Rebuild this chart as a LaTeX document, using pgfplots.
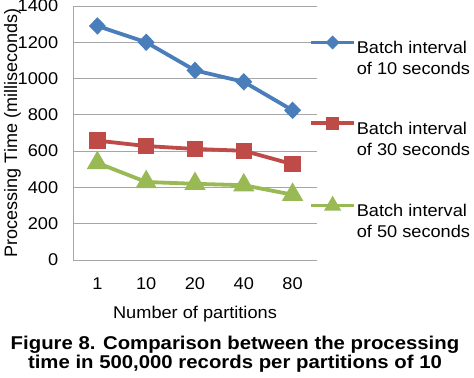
\documentclass[border=0pt]{standalone}
\usepackage{pgfplots}
\pgfplotsset{compat=1.18}
\usepackage{fontspec}
\setmainfont{Liberation Sans}[FakeStretch=1.07]
\newfontfamily\plainfont{Liberation Sans}
\newfontfamily\capfont{Liberation Sans}[FakeStretch=1.1]
\definecolor{cblue}{HTML}{4A7EBB}
\definecolor{cred}{HTML}{BE4B48}
\definecolor{cgreen}{HTML}{98B954}
\definecolor{cgrid}{HTML}{A6A6A6}
\begin{document}
\fontsize{17bp}{21bp}\selectfont
\begin{tikzpicture}
\useasboundingbox (0,0) rectangle (474bp,378bp);
\begin{axis}[
  at={(73bp,118bp)}, anchor=south west,
  scale only axis, width=244bp, height=254bp,
  xmin=-0.5, xmax=4.5, ymin=0, ymax=1400,
  xtick={0,1,2,3,4}, xticklabels={1,10,20,40,80},
  ytick={0,200,...,1400},
  ymajorgrids, major grid style={color=cgrid, line width=0.9bp},
  axis x line*=bottom, axis y line*=left,
  axis line style={cgrid, line width=0.9bp, -},
  major tick length=0pt, tick style={draw=none},
  /pgf/number format/assume math mode=true,
  /pgf/number format/1000 sep={},
  tick label style={font=\fontsize{17bp}{21bp}\selectfont},
  yticklabel style={xshift=-9bp},
  xticklabel style={yshift=-12bp},
  xlabel={Number of partitions},
  ylabel={\plainfont Processing Time (milliseconds)},
  label style={font=\fontsize{17.5bp}{21bp}\selectfont},
  every axis x label/.style={at={(axis description cs:0.5,-0.212)}, anchor=center},
  every axis y label/.style={at={(axis description cs:-0.248,0.5)}, rotate=90, anchor=center, font=\fontsize{18bp}{21bp}\selectfont},
  clip=false,
  legend cell align=left,
  legend style={at={(0.955,0.882)}, anchor=north west, draw=none, fill=none,
    font=\fontsize{17bp}{21bp}\selectfont, row sep=51bp,
    nodes={inner sep=0.8bp}},
  legend image code/.code={\draw[yshift=10.5bp, mark repeat=2, mark phase=2, #1, every mark/.append style={scale=0.72}] plot coordinates {(0bp,0bp) (21.5bp,0bp) (43bp,0bp)};},
  every axis plot/.append style={line width=3.8bp},
]
\addplot[cblue, mark=diamond*, mark size=6bp, mark options={solid, xscale=1.3}] coordinates {(0,1290) (1,1200) (2,1045) (3,982) (4,825)};
\addlegendentry{\begin{tabular}{@{}l@{}}Batch interval\\of 10 seconds\end{tabular}}
\addplot[cred, mark=square*, mark size=6.3bp, mark options={solid}] coordinates {(0,658) (1,628) (2,612) (3,602) (4,528)};
\addlegendentry{\begin{tabular}{@{}l@{}}Batch interval\\of 30 seconds\end{tabular}}
\addplot[cgreen, mark=triangle*, mark size=8.5bp, mark options={solid}] coordinates {(0,535) (1,430) (2,420) (3,412) (4,360)};
\addlegendentry{\begin{tabular}{@{}l@{}}Batch interval\\of 50 seconds\end{tabular}}
\end{axis}
\node[anchor=base, inner sep=0pt, font=\capfont\bfseries\fontsize{18.5bp}{20bp}\selectfont] at (235bp,29bp) {Figure 8. Comparison between the processing};
\node[anchor=base, inner sep=0pt, font=\capfont\bfseries\fontsize{18.5bp}{20bp}\selectfont] at (235bp,10bp) {time in 500,000 records per partitions of 10};
\end{tikzpicture}
\end{document}
